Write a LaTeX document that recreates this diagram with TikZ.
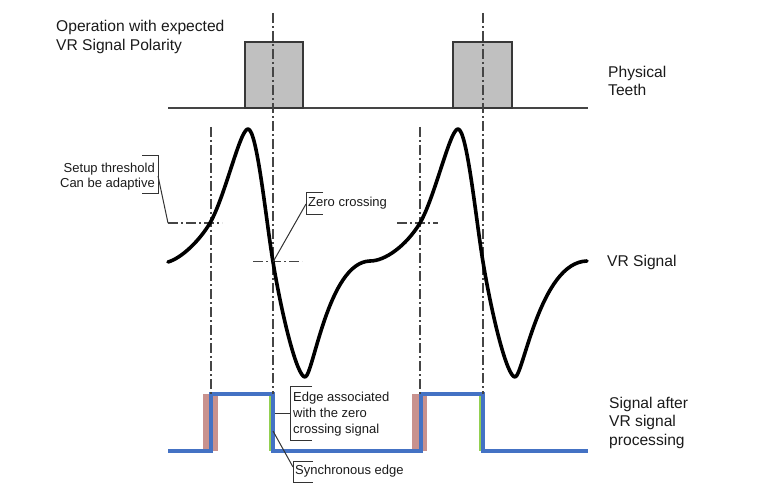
\documentclass[tikz,border=0pt]{standalone}
\usepackage{fontspec}
\setmainfont{Liberation Sans}
\definecolor{txt}{HTML}{1A1A1A}
\definecolor{dashgray}{HTML}{454545}
\definecolor{toothgray}{HTML}{C0C0C0}
\definecolor{toothedge}{HTML}{383838}
\definecolor{pulseblue}{HTML}{4472C4}
\definecolor{pinkc}{HTML}{C9928E}
\definecolor{greenc}{HTML}{92D050}
\begin{document}
\begin{tikzpicture}[x=1pt,y=-1pt,
  big/.style={font=\fontsize{15.6}{18.7}\selectfont, inner sep=0pt, text=txt, align=left},
  small/.style={font=\fontsize{13}{15.6}\selectfont, inner sep=0pt, text=txt},
  axisline/.style={draw=dashgray, line width=1.2pt, dash pattern=on 10pt off 3pt on 2pt off 3pt},
  tooth/.style={fill=toothgray, draw=toothedge, line width=1.5pt},
  wave/.style={draw=black, line width=3.6pt, line cap=round, line join=round},
  pulse/.style={draw=pulseblue, line width=3.2pt},
  greenedge/.style={draw=greenc, line width=1.8pt},
  bracket/.style={draw=black!80, line width=1pt},
  leader/.style={draw=black!80, line width=1pt}]
\useasboundingbox (0,0) rectangle (775,502);

% physical teeth
\draw[draw=dashgray, line width=1.4pt] (168,108) -- (588,108);
\draw[tooth] (245,42) rectangle (303,108);
\draw[tooth] (453,42) rectangle (512,108);

% processed signal
\fill[pinkc] (203,394) rectangle (218,451);
\fill[pinkc] (412,394) rectangle (427,451);
\draw[pulse] (168,451) -- (211,451) -- (211,394) -- (273,394) -- (273,451)
  -- (421,451) -- (421,394) -- (483,394) -- (483,451) -- (588,451);
\draw[greenedge] (270.2,396) -- (270.2,451);
\draw[greenedge] (480.2,396) -- (480.2,451);

% reference axes
\draw[axisline] (211,127) -- (211,394);
\draw[axisline] (273,13) -- (273,394);
\draw[axisline] (420,127) -- (420,394);
\draw[axisline] (483,13) -- (483,394);
\draw[axisline] (168,223) -- (222,223);
\draw[axisline] (397,223) -- (438,223);
\draw[axisline] (253,261.5) -- (302,261.5);

% VR signal
\draw[wave] (168,262) .. controls (182,258) and (200,240) .. (210,223)
 .. controls (225,197) and (240,129) .. (248,129)
 .. controls (257,129) and (266,220) .. (273,262)
 .. controls (282,316) and (297,377) .. (305,377)
 .. controls (313,377) and (328,262) .. (370,261)
 .. controls (385,261) and (406,246) .. (420,223)
 .. controls (435,197) and (450,129) .. (458,129)
 .. controls (467,129) and (476,220) .. (483,262)
 .. controls (492,316) and (507,377) .. (515,377)
 .. controls (523,377) and (540,262) .. (587,261);

% large labels
\node[big, anchor=north west, font=\fontsize{15.6}{19}\selectfont] (title) at (56,19.7) {Operation with expected\\VR Signal Polarity};
\node[big, anchor=north west] (teeth) at (608,65.7) {Physical\\Teeth};
\node[big, anchor=base west] (vr) at (607,266) {VR Signal};
\node[big, anchor=north west] (after) at (609,396.7) {Signal after\\VR signal\\processing};

% setup threshold callout
\node[small, anchor=north east, align=right, font=\fontsize{13}{15}\selectfont] (setup) at (155,162.6) {Setup threshold\\Can be adaptive};
\draw[bracket] (142,156) -- (158,156) -- (158,194) -- (142,194);
\coordinate (setupTip) at (158,176);
\coordinate (thrL) at (168,223);
\draw[leader] (setupTip) -- (thrL);

% zero crossing callout
\node[small, anchor=base west] (zero) at (308,207) {Zero crossing};
\draw[bracket] (323,193) -- (306,193) -- (306,215) -- (323,215);
\coordinate (zeroTip) at (306,204);
\coordinate (zeroPt) at (273,262);
\draw[leader] (zeroTip) -- (zeroPt);

% edge callout
\node[small, anchor=north west, align=left, font=\fontsize{13}{16}\selectfont] (edge) at (293,391.6) {Edge associated\\with the zero\\crossing signal};
\draw[bracket] (312,386) -- (290,386) -- (290,440) -- (312,440);
\coordinate (edgeTip) at (290,413);
\coordinate (edgePt) at (275,413);
\draw[leader] (edgeTip) -- (edgePt);

% synchronous edge callout
\node[small, anchor=base west] (sync) at (295,474) {Synchronous edge};
\draw[bracket] (313,461) -- (293,461) -- (293,482) -- (313,482);
\coordinate (syncTip) at (293,467);
\coordinate (syncPt) at (273,431);
\draw[leader] (syncPt) -- (syncTip);
\end{tikzpicture}
\end{document}
